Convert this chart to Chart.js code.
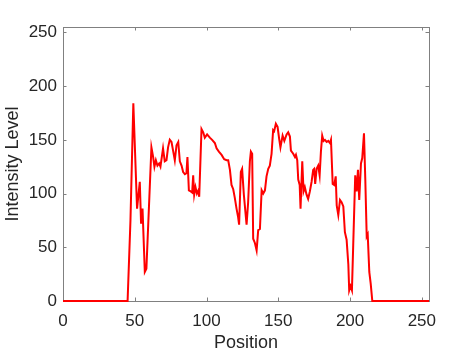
<!DOCTYPE html>
<html>
<head>
<meta charset="utf-8">
<script src="https://cdn.jsdelivr.net/npm/chart.js@4"></script>
<style>
  html, body { margin: 0; padding: 0; background: #fff; }
  #wrap { width: 474px; height: 355px; }
</style>
</head>
<body>
<div id="wrap"><canvas id="profileChart" width="474" height="355"></canvas></div>
<script>
// values
const positions = [0, 45, 47, 49, 51.6, 53.5, 54.4, 55.4, 57, 58.1, 61.6, 62.8, 63.7, 64.7, 65.8, 67, 67.9, 69.7, 70.9, 72.1,
  73.2, 74.4, 75.6, 76.7, 77.9, 79.1, 80.3, 81.4, 82.6, 83.7, 84.9, 86, 86.7, 87.7, 89, 90, 90.7, 91.4, 92.3, 93.3,
  94.3, 94.9, 96.5, 97.7, 98.8, 100.4, 102.3, 103.9, 105.8, 107, 108.6, 110.5, 112.3, 114, 115.1, 116.3, 117.4, 118.6, 119.7, 120.9,
  122, 122.7, 123.9, 124.8, 126, 127.9, 129, 130.2, 130.9, 131.8, 132.5, 133.7, 134.9, 136, 137.2, 138.4, 139.5, 140.7, 141.8, 143,
  144.1, 145.3, 146.4, 147.1, 148.3, 149.5, 150.6, 151.5, 153, 154.2, 155.8, 156.9, 158.1, 158.8, 160.4, 161.6, 162.3, 163.2, 163.9, 164.9,
  165.5, 166.7, 167.6, 168.5, 169.7, 170.8, 172, 173.2, 174.3, 175, 175.7, 176.7, 177.8, 178.8, 179.7, 180.6, 181.6, 182.5, 183.7, 184.8,
  186, 186.7, 187.9, 189, 190, 190.7, 191.8, 193, 194.1, 195.3, 196.4, 197.6, 198.8, 199.4, 200.3, 201.3, 202.2, 203.6, 204.6, 205.5,
  206.4, 207.6, 208.5, 209.7, 210.6, 211.6, 212.3, 213.4, 214.4, 215.5, 255];
const intensity = [0, 0, 75, 184, 86, 111, 72, 86, 27, 30, 143, 134, 125, 131, 126, 128, 125, 142, 130, 131,
  143, 150, 148, 140, 131, 145, 148, 130, 126, 120, 118, 119, 134, 103, 102, 101, 117, 99, 106, 100,
  103, 97, 160, 157, 152, 155, 152, 150, 147, 142, 139, 136, 132, 131, 131, 122, 108, 104, 96, 86,
  78, 71, 120, 123, 99, 71, 92, 130, 139, 137, 58, 54, 47, 66, 67, 103, 100, 103, 116, 123,
  126, 137, 159, 158, 165, 162, 151, 143, 154, 149, 155, 157, 153, 140, 137, 134, 136, 131, 113, 108,
  86, 130, 102, 106, 99, 95, 102, 111, 122, 123, 109, 123, 126, 117, 139, 154, 149, 150, 148, 149,
  147, 150, 109, 108, 116, 89, 80, 94, 92, 88, 64, 57, 34, 10, 14, 10, 52, 117, 102, 122,
  94, 128, 133, 156, 114, 60, 62, 27, 16, 0, 0];
const xTicks = [0, 50, 100, 150, 200, 250];
const yTicks = [0, 50, 100, 150, 200, 250];

const axisColor = '#808080';
const textColor = '#262626';

// MATLAB-style box with inward ticks on all four sides
const boxPlugin = {
    id: 'box',
    beforeDatasetsDraw(chart) {
        const { ctx, chartArea: a, scales } = chart;
        ctx.save();
        ctx.strokeStyle = axisColor;
        ctx.lineWidth = 1;
        ctx.strokeRect(Math.round(a.left) + 0.5, Math.round(a.top) + 0.5,
            Math.round(a.right - a.left), Math.round(a.bottom - a.top));
        ctx.beginPath();
        const tl = 3.5;
        xTicks.forEach(v => {
            const px = Math.round(scales.x.getPixelForValue(v)) + 0.5;
            ctx.moveTo(px, a.bottom); ctx.lineTo(px, a.bottom - tl);
            ctx.moveTo(px, a.top); ctx.lineTo(px, a.top + tl);
        });
        yTicks.forEach(v => {
            const py = Math.round(scales.y.getPixelForValue(v)) + 0.5;
            ctx.moveTo(a.left, py); ctx.lineTo(a.left + tl, py);
            ctx.moveTo(a.right, py); ctx.lineTo(a.right - tl, py);
        });
        ctx.stroke();
        ctx.restore();
    }
};

const ctx = document.getElementById('profileChart').getContext('2d');
const chart = new Chart(ctx, {
    type: 'line',
    data: {
        datasets: [{
            label: 'Intensity',
            data: positions.map((p, i) => ({ x: p, y: intensity[i] })),
            borderColor: '#ff0000',
            borderWidth: 2,
            pointRadius: 0,
            tension: 0,
            fill: false,
            clip: false
        }]
    },
    options: {
        responsive: false,
        animation: false,
        devicePixelRatio: 1,
        layout: {
            padding: { left: 0, top: 27, right: 45, bottom: 0 }
        },
        plugins: {
            legend: { display: false },
            tooltip: { enabled: false }
        },
        scales: {
            x: {
                type: 'linear',
                min: 0,
                max: 255,
                afterBuildTicks: s => { s.ticks = xTicks.map(v => ({ value: v })); },
                afterFit: s => { s.height = 54; },
                grid: { display: false, drawTicks: false },
                border: { display: false },
                ticks: {
                    color: textColor,
                    padding: 10,
                    maxRotation: 0,
                    font: { family: 'Liberation Sans, Arial, sans-serif', size: 17 }
                },
                title: {
                    display: true,
                    text: 'Position',
                    color: textColor,
                    padding: { top: 0, bottom: 1 },
                    font: { family: 'Liberation Sans, Arial, sans-serif', size: 18 }
                }
            },
            y: {
                min: 0,
                max: 255,
                afterBuildTicks: s => { s.ticks = yTicks.map(v => ({ value: v })); },
                afterFit: s => { s.width = 63; },
                grid: { display: false, drawTicks: false },
                border: { display: false },
                ticks: {
                    color: textColor,
                    padding: 6,
                    font: { family: 'Liberation Sans, Arial, sans-serif', size: 17 }
                },
                title: {
                    display: true,
                    text: 'Intensity Level',
                    color: textColor,
                    padding: { top: 2, bottom: 0 },
                    font: { family: 'Liberation Sans, Arial, sans-serif', size: 18 }
                }
            }
        }
    },
    plugins: [boxPlugin]
});
</script>
</body>
</html>
